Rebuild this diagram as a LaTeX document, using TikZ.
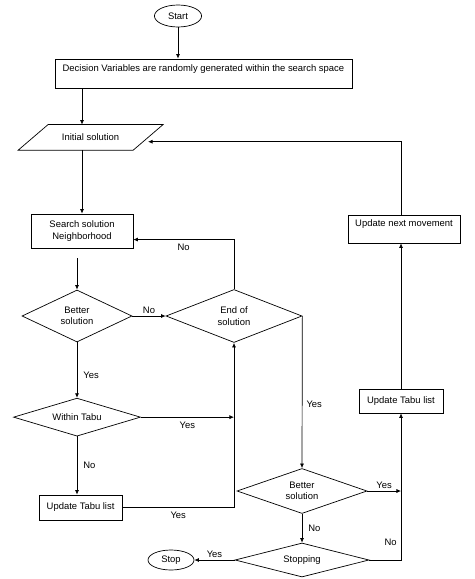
\documentclass[tikz,border=0pt]{standalone}
\usepackage{fontspec}
\setmainfont{Liberation Sans}
\usetikzlibrary{arrows.meta,positioning,shapes.geometric}

\begin{document}
\begin{tikzpicture}[
  blk/.style={draw, align=center, inner sep=1pt, font=\fs},
  cond/.style={draw, diamond, aspect=2, inner sep=0pt, align=center, font=\fs},
  term/.style={draw, ellipse, inner sep=0pt, font=\fs},
  io/.style={inner sep=0pt, font=\fs},
  lbl/.style={font=\fs, inner sep=2pt},
  >={Latex[length=4.5pt,width=4pt]}, line width=0.7pt
]
  \newcommand{\fs}{\fontsize{9.4}{11.5}\selectfont}
  \useasboundingbox (0,0) rectangle (16.59,-20.265);

  \node[term, minimum width=1.65cm, minimum height=0.77cm] (start) at (6.23,-0.56) {Start};
  \node[blk, minimum width=10.4cm, minimum height=1.015cm] (dec) at (7.12,-2.57)
       {Decision Variables are randomly generated within the search space\\ ~};
  \node[io, minimum width=4cm, minimum height=0.875cm] (ini) at (3.17,-4.81) {Initial solution};
  \draw ([xshift=0.525cm]ini.north west) -- ([xshift=0.525cm]ini.north east)
     -- ([xshift=-0.525cm]ini.south east) -- ([xshift=-0.525cm]ini.south west) -- cycle;
  \node[blk, minimum width=3.57cm, minimum height=1.19cm] (srch) at (2.87,-8.085)
       {Search solution\\Neighborhood};
  \node[blk, minimum width=3.92cm, minimum height=0.98cm] (nxt) at (14.14,-8.015)
       {Update next movement\\ ~};

  \node[cond, minimum width=3.85cm, minimum height=1.82cm] (b1) at (2.695,-11.06) {Better\\solution};
  \node[cond, minimum width=4.76cm, minimum height=1.855cm] (end) at (8.19,-11.06) {End of\\solution};
  \node[cond, minimum width=4.445cm, minimum height=1.33cm] (wt) at (2.695,-14.6) {Within Tabu};
  \node[blk, minimum width=2.905cm, minimum height=0.875cm] (ut1) at (2.82,-17.76) {Update Tabu list};
  \node[blk, minimum width=2.94cm, minimum height=0.84cm] (ut2) at (14.035,-14.035) {Update Tabu list};

  \node[cond, minimum width=4.55cm, minimum height=1.575cm] (b2) at (10.57,-17.185) {Better\\solution};
  \node[cond, minimum width=4.69cm, minimum height=1.19cm] (stp) at (10.57,-19.6) {Stopping};
  \node[term, minimum width=1.61cm, minimum height=0.7cm] (stop) at (5.985,-19.6) {Stop};

  \draw[->] (start) -- (start |- dec.north);
  \draw[->] (dec.south -| srch.north) -- (ini.north -| srch.north);
  \draw[->] (ini.south -| srch.north) -- (srch.north);
  \draw[->, shorten <=0.35cm] (srch.south -| b1.north) -- (b1.north);
  \draw[->] (b1.east) -- (end.west) node[lbl, midway, above] {No};
  \draw[->] (end.north) |- ([yshift=-0.3cm]srch.east) node[lbl, pos=0.75, below=2pt] {No};
  \draw[->] (b1.south) -- (wt.north) node[lbl, pos=0.6, right=4pt] {Yes};
  \draw[->] (wt.east) -- (wt.east -| end.south) node[lbl, midway, below=2pt] {Yes};
  \draw[->] (wt.south) -- (wt.south |- ut1.north) node[lbl, midway, right=4pt] {No};
  \draw[->] (ut1.east) -| (end.south) node[lbl, pos=0.25, below=2pt] {Yes};
  \draw[->] (end.east) -- (b2.north) node[lbl, pos=0.58, right=2pt] {Yes};
  \draw[->] (b2.east) -- (b2.east -| ut2.south) node[lbl, midway, above] {Yes};
  \draw[->] (b2.south) -- (stp.north) node[lbl, midway, right=4pt] {No};
  \draw[->] (stp.west) -- (stop.east) node[lbl, midway, above] {Yes};
  \draw[->] (stp.east) -| (ut2.south) node[lbl, pos=0.56, left=2pt] {No};
  \draw[->] (ut2.north) -- (ut2.north |- nxt.south);
  \draw[->] (ut2.north |- nxt.north) |- ([yshift=-0.15cm]ini.east);
\end{tikzpicture}
\end{document}
